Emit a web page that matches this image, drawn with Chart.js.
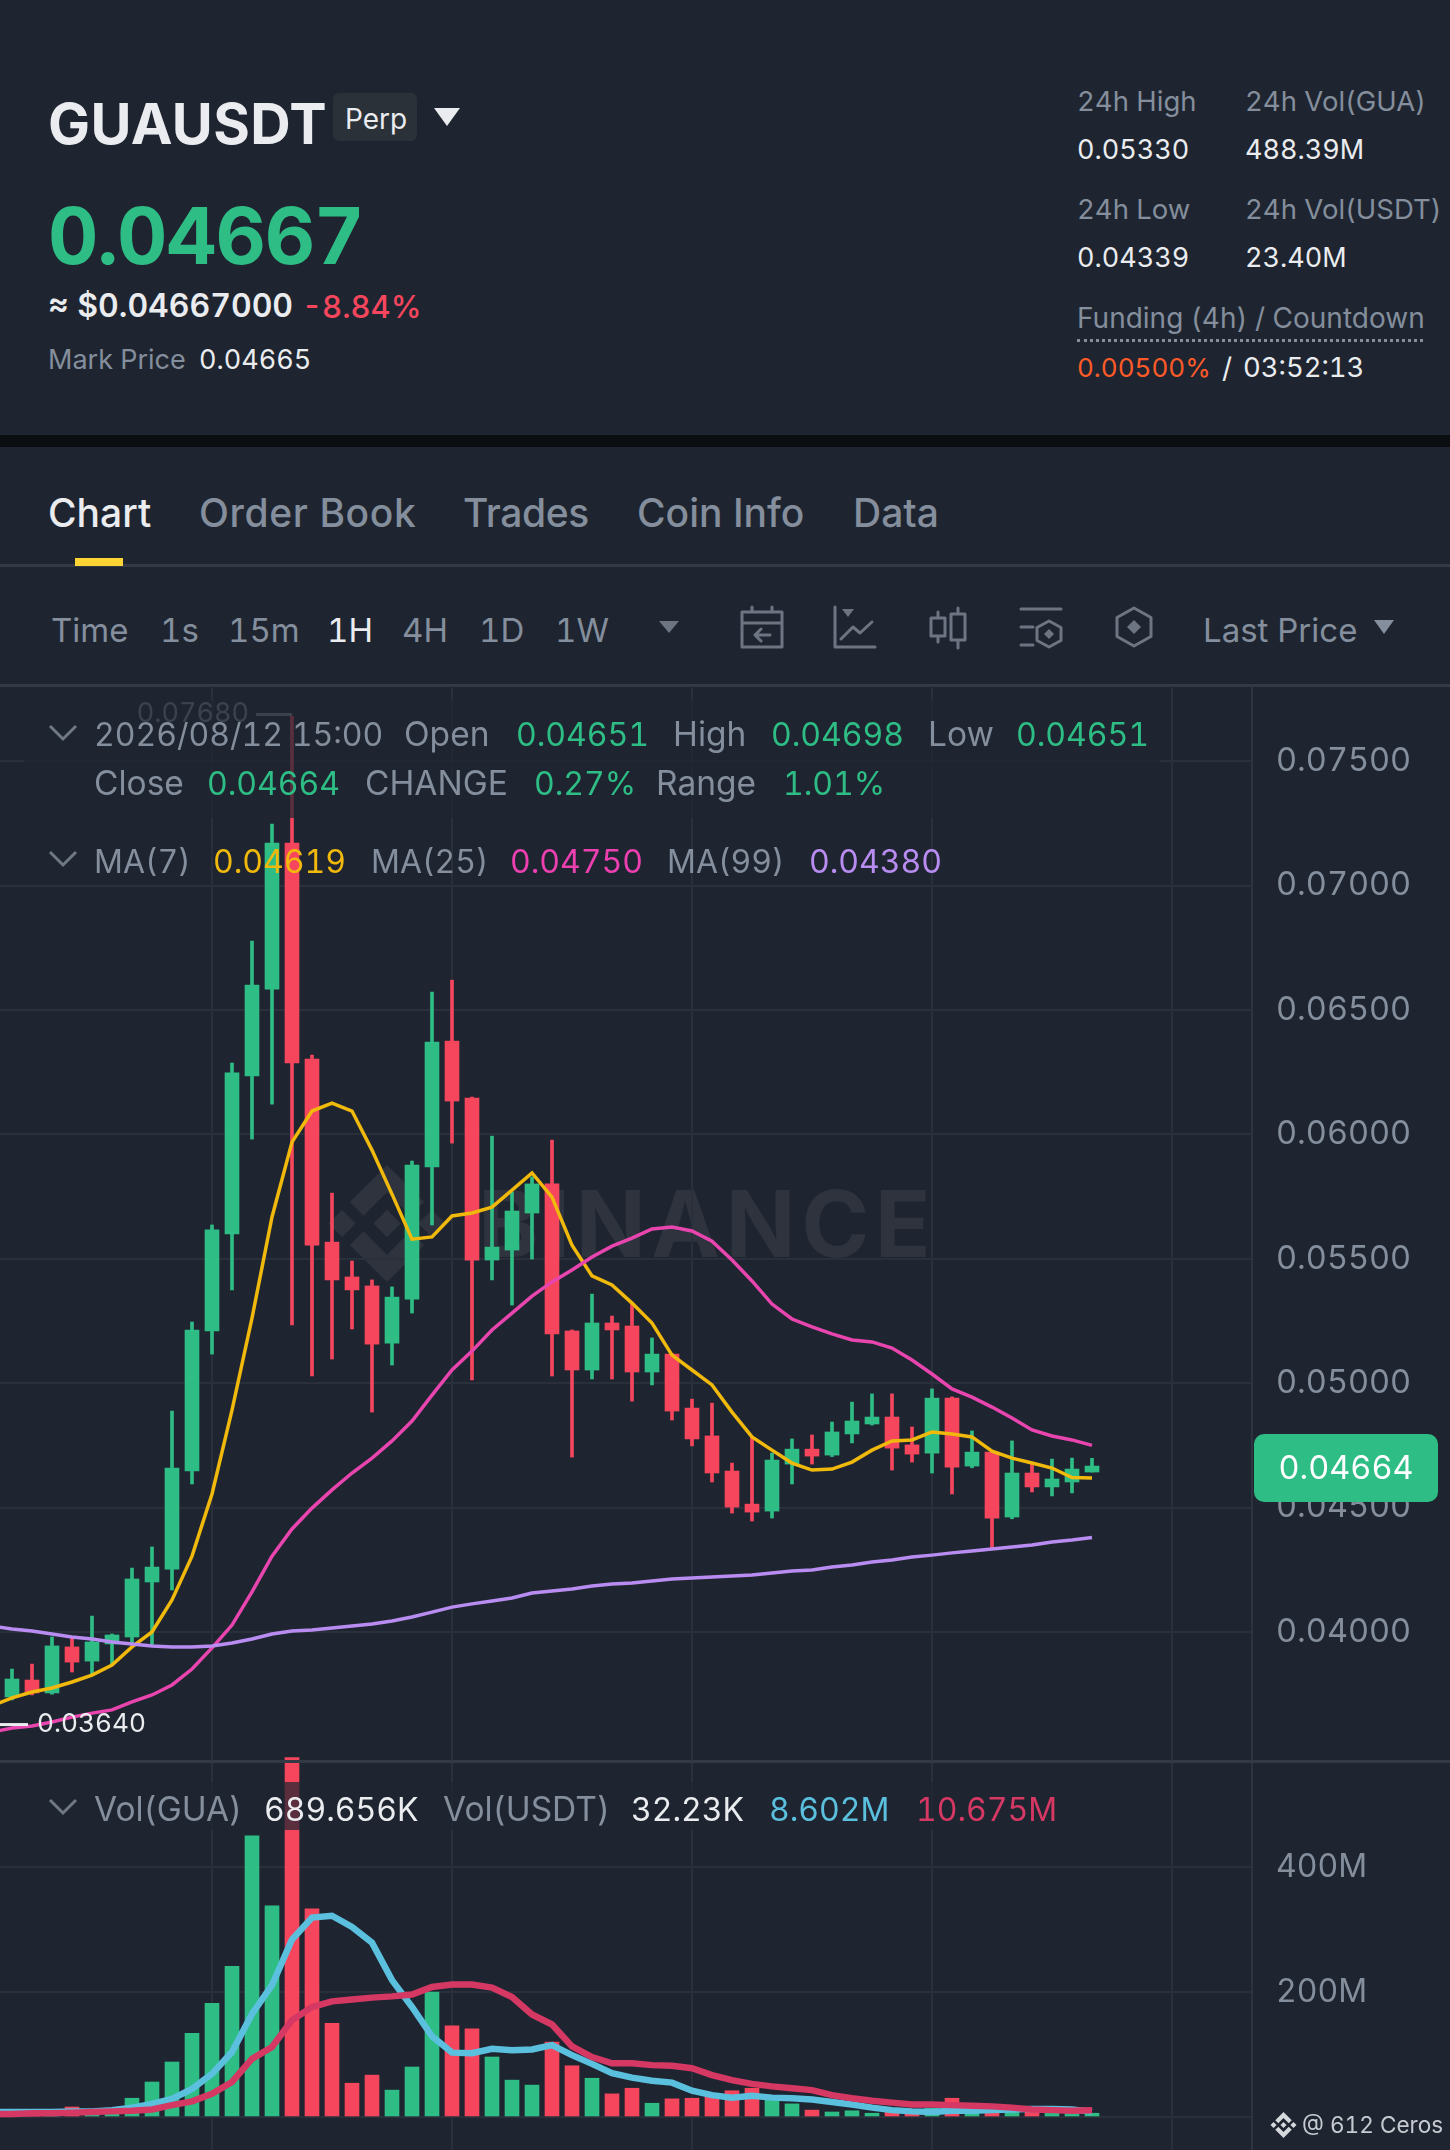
<!DOCTYPE html>
<html>
<head>
<meta charset="utf-8">
<title>GUAUSDT Perp</title>
<script src="https://cdn.jsdelivr.net/npm/chart.js@4/dist/chart.umd.min.js"></script>
<style>
html, body { margin: 0; padding: 0; background: #1e2530; }
body { position: relative; width: 1450px; height: 2150px; overflow: hidden; font-family: Inter, "Noto Sans", sans-serif; color: #848e9c; font-variant-numeric: tabular-nums; }
.t { position: absolute; white-space: nowrap; transform: translateY(-50%); line-height: 1; }
.w { color: #eaecef; }
.g { color: #2ebd85; }
.r { color: #f6465d; }
.box { position: absolute; }
canvas { position: absolute; left: 0; display: block; }
.lab { font-size: 33.5px; }
.num { font-size: 32px; }
.tb { font-size: 33px; }
.tab { font-size: 39px; font-weight: 500; }
svg { position: absolute; overflow: visible; }
.ic { fill: none; stroke: #6e7582; stroke-width: 3; stroke-linecap: round; stroke-linejoin: round; }
</style>
</head>
<body>
<!-- header -->
<span class="t w" style="left:48px;top:124px;font-size:56px;font-weight:700;letter-spacing:.4px">GUAUSDT</span>
<div class="box" style="left:333px;top:93px;width:84px;height:48px;background:#2b3139;border-radius:6px"></div>
<span class="t w" style="left:345px;top:119px;font-size:28px">Perp</span>
<svg style="left:434px;top:108px" width="26" height="18"><polygon points="0,0 26,0 13,18" fill="#eaecef"/></svg>
<span class="t g" style="left:48px;top:236px;font-size:78px;font-weight:700;letter-spacing:-1.2px">0.04667</span>
<span class="t w" style="left:48px;top:306px;font-size:32px;font-weight:600">≈ $0.04667000</span>
<span class="t r" style="left:302px;top:306px;font-size:31px;font-weight:500">-8.84%</span>
<span class="t" style="left:48px;top:359px;font-size:27px">Mark Price</span>
<span class="t w" style="left:199px;top:359px;font-size:27px">0.04665</span>

<span class="t" style="left:1077px;top:102px;font-size:27.5px">24h High</span>
<span class="t" style="left:1245px;top:102px;font-size:27.5px">24h Vol(GUA)</span>
<span class="t w" style="left:1077px;top:149px;font-size:27px">0.05330</span>
<span class="t w" style="left:1245px;top:149px;font-size:27px">488.39M</span>
<span class="t" style="left:1077px;top:210px;font-size:27.5px">24h Low</span>
<span class="t" style="left:1245px;top:210px;font-size:27.5px">24h Vol(USDT)</span>
<span class="t w" style="left:1077px;top:257px;font-size:27px">0.04339</span>
<span class="t w" style="left:1245px;top:257px;font-size:27px">23.40M</span>
<span class="t" style="left:1077px;top:318px;font-size:28px">Funding (4h) / Countdown</span>
<div class="box" style="left:1077px;top:339px;width:346px;border-top:3px dotted #848e9c"></div>
<span class="t" style="left:1077px;top:368px;font-size:26px;color:#ff5b29">0.00500%</span>
<span class="t w" style="left:1222px;top:368px;font-size:28px">/</span>
<span class="t w" style="left:1243px;top:368px;font-size:27.4px">03:52:13</span>

<div class="box" style="left:0;top:435px;width:1450px;height:12px;background:#0b0e11"></div>

<!-- tabs -->
<span class="t tab w" style="left:48px;top:512px">Chart</span>
<span class="t tab" style="left:199px;top:512px;letter-spacing:.6px">Order Book</span>
<span class="t tab" style="left:463px;top:512px;letter-spacing:-.4px">Trades</span>
<span class="t tab" style="left:637px;top:512px">Coin Info</span>
<span class="t tab" style="left:853px;top:512px">Data</span>
<div class="box" style="left:0;top:564px;width:1450px;height:3px;background:#333a45"></div>
<div class="box" style="left:75px;top:558px;width:48px;height:8px;background:#fcd535"></div>

<!-- toolbar -->
<span class="t tb" style="left:51px;top:630px">Time</span>
<span class="t tb" style="left:160px;top:630px">1s</span>
<span class="t tb" style="left:228px;top:630px">15m</span>
<span class="t tb w" style="left:327px;top:630px">1H</span>
<span class="t tb" style="left:402px;top:630px">4H</span>
<span class="t tb" style="left:479px;top:630px">1D</span>
<span class="t tb" style="left:555px;top:630px">1W</span>
<svg style="left:0;top:0" width="1450" height="700">
  <polygon points="659,621 679,621 669,633" fill="#6e7582"/>
  <path class="ic" d="M742 612h40v35h-40zM742 623h40M752 607v5M772 607v5M770 635h-15M761 629l-6 6 6 6"/>
  <path class="ic" d="M835 607v40h40M841 639l12-12 7 6 12-11"/>
  <polygon points="842,609 854,609 848,617" fill="#6e7582"/>
  <path class="ic" d="M931 618h14v18h-14zM938 612v6M938 636v6M951 614h14v26h-14zM958 608v6M958 640v8"/>
  <path class="ic" d="M1021 609h40M1021 627h12M1021 645h12M1049 621l12 6.500v13l-12 6.500-12-6.500v-13z"/>
  <polygon points="1049,629 1054,634 1049,639 1044,634" fill="#6e7582"/>
  <path class="ic" d="M1134 608l17 9.500v19l-17 9.500-17-9.500v-19z"/>
  <polygon points="1134,620 1141,627 1134,634 1127,627" fill="#6e7582"/>
</svg>
<span class="t tb" style="left:1203px;top:630px">Last Price</span>
<svg style="left:1374px;top:620px" width="20" height="14"><polygon points="0,0 20,0 10,14" fill="#848e9c"/></svg>
<div class="box" style="left:0;top:684px;width:1450px;height:3px;background:#333a45"></div>

<!-- watermark sits under the transparent canvas -->
<svg style="left:327px;top:1165px" width="120" height="117" viewBox="-60 -60 120 120" fill="#2e333e">
  <polygon points="0,-60 38,-22 24,-8 0,-32 -24,-8 -38,-22"/>
  <polygon points="0,60 38,22 24,8 0,32 -24,8 -38,22"/>
  <polygon points="0,-14 14,0 0,14 -14,0"/>
  <polygon points="-46,-14 -32,0 -46,14 -60,0"/>
  <polygon points="46,-14 60,0 46,14 32,0"/>
</svg>
<span class="t" style="left:478px;top:1224px;font-size:92px;font-weight:700;color:#2e333e;letter-spacing:5.5px">BINANCE</span>

<canvas id="priceChart" width="1450" height="1075" style="top:686px;width:1450px;height:1075px"></canvas>
<canvas id="volumeChart" width="1450" height="395" style="top:1755px;width:1450px;height:395px"></canvas>

<!-- legend rows: translucent backing dims the chart behind them -->
<div class="box" style="left:24px;top:700px;width:1136px;height:118px;background:rgba(30,37,48,.72)"></div>
<div class="box" style="left:24px;top:1782px;width:1040px;height:48px;background:rgba(30,37,48,.72)"></div>

<svg style="left:49px;top:725px" width="28" height="16"><path d="M1 1l13 13L27 1" fill="none" stroke="#6f7885" stroke-width="3"/></svg>
<span class="t num" style="left:94px;top:735px">2026/08/12 15:00</span>
<span class="t lab" style="left:404px;top:735px">Open</span>
<span class="t num g" style="left:516px;top:735px">0.04651</span>
<span class="t lab" style="left:673px;top:735px">High</span>
<span class="t num g" style="left:771px;top:735px">0.04698</span>
<span class="t lab" style="left:928px;top:735px">Low</span>
<span class="t num g" style="left:1016px;top:735px">0.04651</span>
<span class="t lab" style="left:94px;top:784px">Close</span>
<span class="t num g" style="left:207px;top:784px">0.04664</span>
<span class="t lab" style="left:365px;top:784px">CHANGE</span>
<span class="t num g" style="left:534px;top:784px">0.27%</span>
<span class="t lab" style="left:656px;top:784px">Range</span>
<span class="t num g" style="left:783px;top:784px">1.01%</span>

<svg style="left:49px;top:851px" width="28" height="16"><path d="M1 1l13 13L27 1" fill="none" stroke="#6f7885" stroke-width="3"/></svg>
<span class="t num" style="left:94px;top:862px">MA(7)</span>
<span class="t num" style="left:213px;top:862px;color:#f0b90b">0.04619</span>
<span class="t num" style="left:371px;top:862px">MA(25)</span>
<span class="t num" style="left:510px;top:862px;color:#ec3fb0">0.04750</span>
<span class="t num" style="left:667px;top:862px">MA(99)</span>
<span class="t num" style="left:809px;top:862px;color:#b98cf2">0.04380</span>

<svg style="left:49px;top:1799px" width="28" height="16"><path d="M1 1l13 13L27 1" fill="none" stroke="#6f7885" stroke-width="3"/></svg>
<span class="t lab" style="left:94px;top:1810px">Vol(GUA)</span>
<span class="t num w" style="left:264px;top:1810px">689.656K</span>
<span class="t lab" style="left:443px;top:1810px">Vol(USDT)</span>
<span class="t num w" style="left:631px;top:1810px">32.23K</span>
<span class="t num" style="left:769px;top:1810px;color:#5bc0de">8.602M</span>
<span class="t num" style="left:916px;top:1810px;color:#d63864">10.675M</span>

<div class="box" style="left:0;top:1760px;width:1450px;height:3px;background:#333a45"></div>

<div class="box" style="left:1254px;top:1434px;width:184px;height:68px;background:#2ebd85;border-radius:10px"></div>
<span class="t" style="left:1254px;width:184px;text-align:center;top:1468px;font-size:32.5px;color:#fff">0.04664</span>

<svg style="left:1270px;top:2112px" width="27" height="26" viewBox="-60 -60 120 120" fill="#d5d8dc">
  <polygon points="0,-60 38,-22 24,-8 0,-32 -24,-8 -38,-22"/>
  <polygon points="0,60 38,22 24,8 0,32 -24,8 -38,22"/>
  <polygon points="0,-14 14,0 0,14 -14,0"/>
  <polygon points="-46,-14 -32,0 -46,14 -60,0"/>
  <polygon points="46,-14 60,0 46,14 32,0"/>
</svg>
<span class="t" style="left:1302px;top:2125px;font-size:22.6px;color:#c7cbd1">@ 612 Ceros</span>

<script>
// first entry of every series is the candle just off the left edge
const opens = [0.03700, 0.03739, 0.03807, 0.03755, 0.03940, 0.03883, 0.03952, 0.03980, 0.04201, 0.04253, 0.04647, 0.05210, 0.05600, 0.06235, 0.06584, 0.07171, 0.06303, 0.05567, 0.05427, 0.05391, 0.05161, 0.05338, 0.05869, 0.06375, 0.06146, 0.05495, 0.05535, 0.05684, 0.05801, 0.05210, 0.05053, 0.05242, 0.05230, 0.05045, 0.05117, 0.04900, 0.04788, 0.04647, 0.04514, 0.04486, 0.04675, 0.04735, 0.04711, 0.04796, 0.04836, 0.04864, 0.04752, 0.04719, 0.04940, 0.04667, 0.04723, 0.04462, 0.04639, 0.04583, 0.04603, 0.04643];
const highs = [0.03760, 0.03851, 0.03871, 0.03980, 0.03980, 0.04064, 0.03992, 0.04257, 0.04342, 0.04888, 0.05246, 0.05636, 0.06287, 0.06777, 0.07247, 0.07680, 0.06319, 0.05764, 0.05491, 0.05415, 0.05387, 0.05893, 0.06572, 0.06620, 0.06150, 0.05993, 0.05768, 0.05829, 0.05977, 0.05214, 0.05358, 0.05270, 0.05322, 0.05182, 0.05120, 0.04936, 0.04920, 0.04679, 0.04780, 0.04719, 0.04776, 0.04792, 0.04844, 0.04924, 0.04957, 0.04957, 0.04824, 0.04977, 0.04945, 0.04808, 0.04725, 0.04768, 0.04679, 0.04695, 0.04699, 0.04698];
const lows = [0.03640, 0.03727, 0.03747, 0.03750, 0.03839, 0.03827, 0.03871, 0.03948, 0.03948, 0.04169, 0.04595, 0.05117, 0.05375, 0.05981, 0.06122, 0.05234, 0.05029, 0.05097, 0.05218, 0.04884, 0.05073, 0.05282, 0.05636, 0.05965, 0.05013, 0.05415, 0.05314, 0.05499, 0.05029, 0.04703, 0.05017, 0.05017, 0.04928, 0.04993, 0.04852, 0.04748, 0.04603, 0.04478, 0.04446, 0.04458, 0.04595, 0.04675, 0.04705, 0.04760, 0.04832, 0.04651, 0.04683, 0.04639, 0.04555, 0.04660, 0.04338, 0.04455, 0.04563, 0.04547, 0.04559, 0.04643];
const closes = [0.03730, 0.03811, 0.03755, 0.03944, 0.03879, 0.03960, 0.03988, 0.04213, 0.04261, 0.04659, 0.05214, 0.05616, 0.06247, 0.06600, 0.07171, 0.06287, 0.05555, 0.05415, 0.05375, 0.05157, 0.05346, 0.05877, 0.06371, 0.06134, 0.05495, 0.05547, 0.05692, 0.05801, 0.05198, 0.05053, 0.05242, 0.05214, 0.05045, 0.05117, 0.04888, 0.04776, 0.04639, 0.04502, 0.04482, 0.04691, 0.04735, 0.04707, 0.04804, 0.04848, 0.04864, 0.04739, 0.04715, 0.04940, 0.04663, 0.04723, 0.04458, 0.04639, 0.04583, 0.04615, 0.04655, 0.04667];

const ma7 = [0.03703, 0.03735, 0.03759, 0.03775, 0.03799, 0.03827, 0.03867, 0.03940, 0.04000, 0.04129, 0.04305, 0.04555, 0.04892, 0.05262, 0.05668, 0.05969, 0.06094, 0.06126, 0.06094, 0.05937, 0.05760, 0.05579, 0.05588, 0.05672, 0.05684, 0.05708, 0.05776, 0.05845, 0.05748, 0.05555, 0.05431, 0.05395, 0.05322, 0.05242, 0.05113, 0.05053, 0.04993, 0.04884, 0.04784, 0.04731, 0.04679, 0.04651, 0.04655, 0.04683, 0.04731, 0.04768, 0.04772, 0.04804, 0.04796, 0.04784, 0.04727, 0.04699, 0.04679, 0.04659, 0.04621, 0.04619];
const ma25 = [0.03598, 0.03614, 0.03622, 0.03638, 0.03658, 0.03674, 0.03687, 0.03719, 0.03747, 0.03787, 0.03851, 0.03936, 0.04028, 0.04161, 0.04305, 0.04414, 0.04498, 0.04571, 0.04639, 0.04699, 0.04768, 0.04848, 0.04952, 0.05053, 0.05129, 0.05214, 0.05282, 0.05350, 0.05407, 0.05455, 0.05507, 0.05551, 0.05583, 0.05620, 0.05628, 0.05612, 0.05571, 0.05495, 0.05411, 0.05318, 0.05258, 0.05226, 0.05198, 0.05174, 0.05166, 0.05141, 0.05093, 0.05037, 0.04977, 0.04944, 0.04904, 0.04860, 0.04812, 0.04788, 0.04772, 0.04750];
const ma99 = [0.04024, 0.04012, 0.04004, 0.03992, 0.03980, 0.03972, 0.03960, 0.03952, 0.03944, 0.03940, 0.03940, 0.03944, 0.03956, 0.03972, 0.03992, 0.04004, 0.04008, 0.04016, 0.04024, 0.04032, 0.04044, 0.04060, 0.04080, 0.04100, 0.04113, 0.04125, 0.04137, 0.04157, 0.04165, 0.04173, 0.04185, 0.04193, 0.04197, 0.04205, 0.04213, 0.04217, 0.04221, 0.04225, 0.04229, 0.04237, 0.04245, 0.04249, 0.04261, 0.04269, 0.04281, 0.04289, 0.04301, 0.04309, 0.04318, 0.04326, 0.04334, 0.04342, 0.04350, 0.04362, 0.04370, 0.04380];

// volume in millions of GUA
const volumes = [3, 3, 5, 6, 16, 6, 7, 30, 56, 88, 134, 182, 241, 450, 338, 575, 333, 150, 54, 67, 43, 80, 200, 146, 141, 96, 59, 51, 120, 82, 62, 37, 46, 22, 29, 30, 34, 42, 46, 27, 21, 11, 8, 10, 6, 8, 8, 14, 30, 10, 8, 11, 10, 8, 6, 6];
const volMaFast = [8, 8, 8, 8, 9, 9, 11, 15, 21, 29, 45, 69, 104, 165, 211, 284, 319, 322, 304, 279, 219, 176, 129, 103, 102, 109, 107, 108, 115, 99, 85, 70, 63, 58, 55, 42, 35, 31, 34, 31, 30, 28, 24, 20, 15, 11, 9, 8, 10, 10, 11, 12, 13, 13, 12, 8.6];
const volMaSlow = [5, 5, 6, 6, 7, 8, 9, 10, 12, 19, 25, 37, 56, 93, 112, 155, 176, 185, 188, 191, 193, 196, 208, 212, 212, 207, 192, 164, 148, 113, 96, 86, 86, 83, 82, 78, 67, 59, 53, 49, 46, 43, 35, 30, 26, 23, 20, 20, 19, 18, 17, 15, 12, 11, 10, 10.7];

const priceTicks = [0.04, 0.045, 0.05, 0.055, 0.06, 0.065, 0.07, 0.075];
const volumeTicks = [0, 200, 400];
const timeGridIndex = [11, 23, 35, 47, 59];
const lastLowPrice = 0.0364;

const GREEN = '#2ebd85';
const RED = '#f6465d';
const GRID = '#2a303b';
const AXIS_TEXT = '#848e9c';

const isUp = i => closes[i] >= opens[i];
const candleColors = opens.map((_, i) => isUp(i) ? GREEN : RED);
const toPoints = values => values.map((y, x) => ({ x, y }));

// shared x axis: 20px per candle, candle 0 just off screen
function xAxis() {
    return {
        type: 'linear',
        min: 0.4,
        max: 63,
        offset: false,
        afterBuildTicks: scale => { scale.ticks = timeGridIndex.map(value => ({ value })); },
        afterFit: scale => { scale.height = 0; },
        ticks: { display: false },
        border: { display: false },
        grid: { color: GRID, lineWidth: 2, drawTicks: false, offset: false }
    };
}

function yAxis(min, max, tickValues, format, fontSize) {
    return {
        position: 'right',
        min,
        max,
        afterBuildTicks: scale => { scale.ticks = tickValues.map(value => ({ value })); },
        afterFit: scale => {
            scale.width = 198;
            scale.paddingTop = 0;
            scale.paddingBottom = 0;
        },
        ticks: {
            callback: format,
            color: AXIS_TEXT,
            padding: 24,
            font: { family: 'Inter', size: fontSize }
        },
        border: { color: '#2d3440', width: 2 },
        grid: { color: GRID, lineWidth: 2, drawTicks: false }
    };
}

// high and low markers that the exchange chart prints next to the extreme candles
const extremeLabels = {
    id: 'extremeLabels',
    afterDatasetsDraw(chart) {
        const { ctx, scales } = chart;
        const hiIndex = highs.indexOf(Math.max(...highs));
        const hiX = scales.x.getPixelForValue(hiIndex);
        const hiY = scales.y.getPixelForValue(highs[hiIndex]);
        ctx.save();
        ctx.font = '27px Inter';
        ctx.textBaseline = 'middle';
        ctx.fillStyle = AXIS_TEXT;
        ctx.strokeStyle = AXIS_TEXT;
        ctx.lineWidth = 3;
        ctx.beginPath();
        ctx.moveTo(hiX - 36, hiY - 2);
        ctx.lineTo(hiX, hiY - 2);
        ctx.stroke();
        ctx.textAlign = 'right';
        ctx.fillText(highs[hiIndex].toFixed(5), hiX - 43, hiY - 3);

        const loY = scales.y.getPixelForValue(lastLowPrice);
        ctx.fillStyle = '#eaecef';
        ctx.strokeStyle = '#eaecef';
        ctx.beginPath();
        ctx.moveTo(0, loY + 3);
        ctx.lineTo(28, loY + 3);
        ctx.stroke();
        ctx.textAlign = 'left';
        ctx.font = '26.2px Inter';
        ctx.fillText(lastLowPrice.toFixed(5), 37, loY + 3);
        ctx.restore();
    }
};

const common = {
    responsive: false,
    animation: false,
    devicePixelRatio: 1,
    layout: { padding: 0 },
    plugins: { legend: { display: false }, tooltip: { enabled: false } }
};

new Chart(document.getElementById('priceChart'), {
    type: 'bar',
    plugins: [extremeLabels],
    data: {
        datasets: [
            { type: 'line', data: toPoints(ma99), borderColor: '#b98cf2', borderWidth: 3.5, pointRadius: 0, tension: 0, order: 0 },
            { type: 'line', data: toPoints(ma25), borderColor: '#e845ae', borderWidth: 3.5, pointRadius: 0, tension: 0, order: 0 },
            { type: 'line', data: toPoints(ma7), borderColor: '#f0b90b', borderWidth: 3.5, pointRadius: 0, tension: 0, order: 0 },
            { data: opens.map((o, x) => ({ x, y: [o, closes[x]] })), backgroundColor: candleColors, barThickness: 14, grouped: false, order: 1 },
            { data: lows.map((l, x) => ({ x, y: [l, highs[x]] })), backgroundColor: candleColors, barThickness: 3, grouped: false, order: 2 }
        ]
    },
    options: {
        ...common,
        scales: {
            x: xAxis(),
            y: yAxis(0.034815, 0.078023, priceTicks, v => v.toFixed(5), 32.5)
        }
    }
});

new Chart(document.getElementById('volumeChart'), {
    type: 'bar',
    data: {
        datasets: [
            { type: 'line', data: toPoints(volMaFast), borderColor: '#5bc0de', borderWidth: 6.5, pointRadius: 0, tension: 0, order: 1 },
            { type: 'line', data: toPoints(volMaSlow), borderColor: '#d63864', borderWidth: 6.5, pointRadius: 0, tension: 0, order: 0 },
            { data: toPoints(volumes), backgroundColor: candleColors, barThickness: 14, grouped: false, order: 2 }
        ]
    },
    options: {
        ...common,
        scales: {
            x: xAxis(),
            y: yAxis(-52.8, 579.2, volumeTicks, v => v === 0 ? '' : v + 'M', 32)
        }
    }
});
</script>
</body>
</html>
